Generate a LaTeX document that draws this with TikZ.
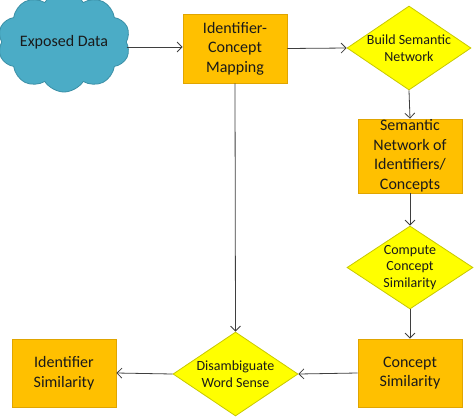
\documentclass[tikz,border=0pt]{standalone}
\usepackage{fontspec}
\setmainfont{Carlito}
\usetikzlibrary{shapes.geometric,shapes.symbols,arrows.meta}
\definecolor{boxfill}{HTML}{FFC000}
\definecolor{boxline}{HTML}{E0A500}
\definecolor{diafill}{HTML}{FFFF00}
\definecolor{dialine}{HTML}{C8C800}
\definecolor{cloudfill}{HTML}{4BACC6}
\definecolor{cloudline}{HTML}{3A8FA6}
\definecolor{arrowcol}{HTML}{3F3F3F}
\definecolor{txt}{HTML}{1A1A1A}
\tikzset{
  procbox/.style={rectangle, draw=boxline, fill=boxfill, line width=0.8pt,
    minimum width=104pt, minimum height=69pt, inner sep=0pt, align=center,
    font=\fontsize{16}{19.5}\selectfont, text=txt},
  decision/.style={diamond, draw=dialine, fill=diafill, line width=0.8pt,
    aspect=1.48, minimum width=124pt, minimum height=84pt, inner sep=-2pt,
    align=center, font=\fontsize{14}{16.5}\selectfont, text=txt},
  datacloud/.style={cloud, cloud puffs=10, cloud puff arc=115, aspect=1.5,
    draw=cloudline, fill=cloudfill, line width=0.8pt,
    minimum width=128pt, minimum height=86pt, inner sep=0pt,
    font=\fontsize{16}{19.5}\selectfont, text=txt},
  flow/.style={draw=arrowcol, line width=0.8pt,
    -{Straight Barb[length=5pt,width=10pt,line width=0.8pt]}}
}
\begin{document}
\begin{tikzpicture}[x=1pt,y=-1pt]
\useasboundingbox (0,0) rectangle (474,416);
\node[datacloud] (cloud) at (64,42) {Exposed Data};
\node[procbox] (icm) at (235,48.5) {Identifier-\\Concept\\Mapping};
\node[decision] (bsn) at (409,48) {Build Semantic\\Network};
\node[procbox, minimum height=74pt] (sn) at (410,156) {Semantic\\Network of\\Identifiers/\\Concepts};
\node[decision, minimum width=126pt, minimum height=83pt] (ccs) at (410,267.5) {Compute\\Concept\\Similarity};
\node[procbox, minimum height=68pt] (cs) at (410,373) {Concept\\Similarity};
\node[decision, minimum width=125pt, minimum height=84pt] (dws) at (235.5,374) {Disambiguate\\Word Sense};
\node[procbox, minimum height=68pt] (is) at (64,373) {Identifier\\Similarity};
\draw[flow] (cloud.east |- 0,47) -- (icm.west |- 0,47);
\draw[flow] (icm.east) -- (bsn.west);
\draw[flow] (bsn.south) -- (sn.north);
\draw[flow] (sn.south) -- (ccs.north);
\draw[flow] (ccs.south) -- (cs.north);
\draw[flow] (cs.west) -- (dws.east);
\draw[flow] (dws.west) -- (is.east);
\draw[flow] (icm.south) -- (dws.north);
\end{tikzpicture}
\end{document}
